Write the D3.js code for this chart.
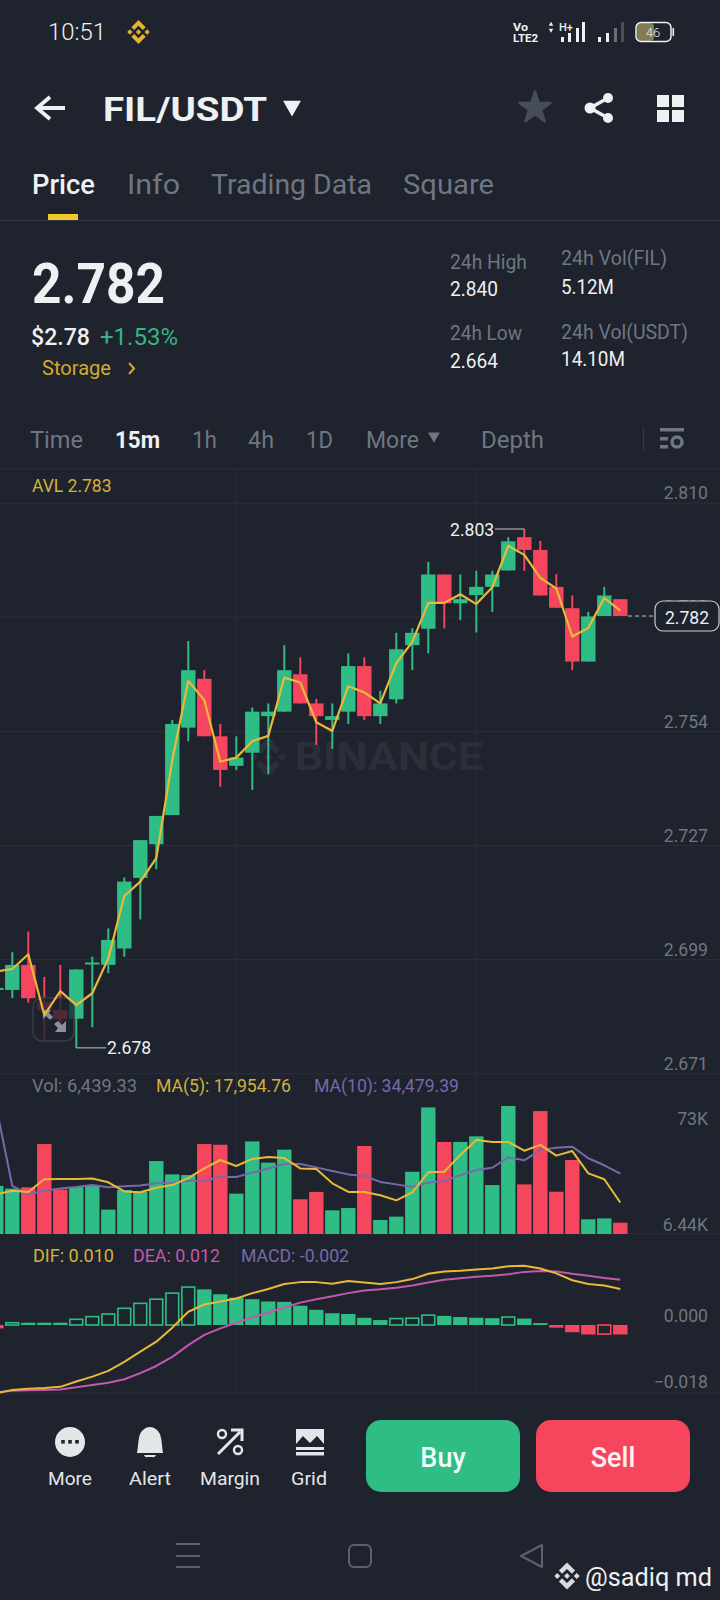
<!DOCTYPE html>
<html>
<head>
<meta charset="utf-8">
<title>FIL/USDT</title>
<script src="https://cdn.jsdelivr.net/npm/d3@7"></script>
<style>
html,body{margin:0;padding:0;background:#1e232d;}
svg{display:block;font-family:Roboto,"Noto Sans",sans-serif;}
</style>
</head>
<body>
<svg></svg>
<script>
// first entry is the candle cut off by the left edge
let opens = [2.6913,2.6913,2.6974,2.6884,2.6864,2.6843,2.6975,2.6974,2.7014,2.7186,2.7268,2.7339,2.7552,2.7671,2.7531,2.7459,2.7491,2.7580,2.7591,2.7682,2.7611,2.7571,2.7591,2.7702,2.7580,2.7621,2.7753,2.7793,2.7925,2.7855,2.7875,2.7895,2.7935,2.8016,2.7985,2.7895,2.7843,2.7713,2.7824,2.7865];
let closes = [2.6918,2.6974,2.6893,2.6864,2.6842,2.6963,2.6980,2.7035,2.7177,2.7278,2.7337,2.7561,2.7692,2.7531,2.7449,2.7479,2.7591,2.7591,2.7692,2.7611,2.7580,2.7580,2.7702,2.7580,2.7611,2.7743,2.7783,2.7925,2.7855,2.7865,2.7895,2.7925,2.8006,2.7985,2.7874,2.7844,2.7713,2.7823,2.7874,2.7824];
let highs = [2.6920,2.7005,2.7055,2.6945,2.6974,2.6963,2.6994,2.7063,2.7187,2.7278,2.7337,2.7571,2.7763,2.7692,2.7561,2.7531,2.7601,2.7611,2.7753,2.7723,2.7622,2.7611,2.7733,2.7723,2.7642,2.7783,2.7794,2.7956,2.7925,2.7925,2.7934,2.7934,2.8016,2.8036,2.8007,2.7926,2.7874,2.7834,2.7895,2.7865];
let lows = [2.6911,2.6893,2.6882,2.6791,2.6828,2.6772,2.6822,2.6954,2.6994,2.7085,2.7207,2.7339,2.7519,2.7531,2.7408,2.7449,2.7400,2.7439,2.7591,2.7611,2.7510,2.7500,2.7561,2.7571,2.7561,2.7611,2.7692,2.7733,2.7794,2.7814,2.7784,2.7834,2.7935,2.7934,2.7874,2.7844,2.7692,2.7713,2.7824,2.7824];
let priceMa = [2.6958,2.6964,2.7000,2.6852,2.6910,2.6876,2.6905,2.6990,2.7142,2.7177,2.7234,2.7473,2.7666,2.7619,2.7469,2.7479,2.7519,2.7532,2.7674,2.7662,2.7565,2.7544,2.7653,2.7638,2.7611,2.7709,2.7761,2.7856,2.7856,2.7877,2.7853,2.7894,2.7995,2.7973,2.7917,2.7891,2.7774,2.7795,2.7868,2.7837];
let priceTicks = [2.8100,2.7822,2.7544,2.7266,2.6988,2.6710];

let volumes = [27400,25900,26600,51300,25300,26800,27900,13900,25100,24100,41600,34000,33600,51300,50900,23000,52800,40700,48100,19800,24000,13500,14800,50200,8000,9900,35500,72200,52500,52500,55700,27900,73000,28300,70100,24100,42200,8400,8900,6439.33];
let volMa5 = [22600,24700,24000,31200,31400,31400,31700,29500,24300,23800,26400,27900,31900,37400,42200,38800,42800,43900,43300,37400,37100,28900,24000,24000,22100,19200,23800,35200,35500,45100,53600,52500,52500,47500,50800,44700,47300,34600,31200,17954.76];
let volMa10 = [72400,27400,22600,24700,26000,26800,27900,26600,27200,27600,28900,29300,30400,30400,32700,32500,35000,37400,39900,39900,38000,35900,34000,33100,29700,28300,26800,29300,30200,33600,36500,37800,43700,42000,47900,49200,49800,43200,39200,34479.39];
let volTicks = [6439.33,73000];
let volTickLabels = ["6.44K","73K"];

let hist = [-0.0009,0.0006,0.0006,0.0006,0.0006,0.0015,0.0022,0.0029,0.0044,0.0057,0.0068,0.0084,0.0100,0.0094,0.0081,0.0072,0.0068,0.0062,0.0061,0.0051,0.0040,0.0031,0.0029,0.0019,0.0013,0.0017,0.0018,0.0026,0.0024,0.0021,0.0019,0.0018,0.0021,0.0017,0.0005,-0.0007,-0.0019,-0.0025,-0.0024,-0.0025];
let dif = [-0.0180,-0.0171,-0.0168,-0.0166,-0.0163,-0.0149,-0.0136,-0.0121,-0.0097,-0.0070,-0.0044,-0.0007,0.0035,0.0054,0.0062,0.0070,0.0084,0.0095,0.0108,0.0113,0.0113,0.0109,0.0116,0.0112,0.0108,0.0113,0.0121,0.0135,0.0141,0.0143,0.0146,0.0149,0.0155,0.0156,0.0149,0.0136,0.0118,0.0108,0.0104,0.0095];
let dea = [-0.0178,-0.0173,-0.0172,-0.0171,-0.0170,-0.0164,-0.0158,-0.0152,-0.0143,-0.0127,-0.0108,-0.0084,-0.0053,-0.0026,-0.0009,0.0006,0.0020,0.0033,0.0046,0.0059,0.0068,0.0076,0.0084,0.0091,0.0094,0.0098,0.0104,0.0112,0.0119,0.0123,0.0127,0.0130,0.0134,0.0140,0.0142,0.0141,0.0135,0.0130,0.0124,0.0119];
let macdTicks = [0,-0.018];

let width = 720;
let height = 1600;
let bg = "#1e232d";
let green = "#2ebd85";
let red = "#f6465d";
let yellow = "#e9b93a";
let pink = "#c558ae";
let purple = "#7a68ab";
let grey = "#6f7683";
let gridColor = "#2b303b";
let white = "#eef0f2";

let svg = d3.select("svg").attr("width",width).attr("height",height);
svg.append("rect").attr("width",width).attr("height",height).attr("fill",bg);

let xScale = d3.scaleBand().domain(d3.range(opens.length)).range([-11.7,628.3]).paddingInner(0.1).paddingOuter(0.05);
let xMid = i => xScale(i)+xScale.bandwidth()/2;
let yPrice = d3.scaleLinear().domain([2.671,2.810]).range([1073.3,502.7]);
let yVol = d3.scaleLinear().domain([0,73000]).range([1234,1106]);
let yMacd = d3.scaleLinear().domain([-0.018,0]).range([1393.3,1325]);

let label = (x,y,str,size,fill,anchor,weight,len) => {
    let t = svg.append("text")
        .attr("x",x).attr("y",y)
        .attr("dy","0.35em")
        .attr("font-size",size)
        .attr("fill",fill)
        .attr("text-anchor",anchor||"start")
        .attr("font-weight",weight||400)
        .text(str);
    if(len) t.attr("textLength",len).attr("lengthAdjust","spacingAndGlyphs");
    return t;
}

let tri = (cx,cy,size,fill,rot) => {
    svg.append("path")
        .attr("d",d3.symbol().type(d3.symbolTriangle).size(size)())
        .attr("transform","translate("+cx+","+cy+") rotate("+rot+")")
        .attr("fill",fill);
}

let logo = (cx,cy,s,fill) => {
    let g = svg.append("g").attr("transform","translate("+cx+","+cy+")").attr("fill",fill);
    let d = (x,y,r) => "M"+x+" "+(y-r)+"L"+(x+r)+" "+y+"L"+x+" "+(y+r)+"L"+(x-r)+" "+y+"Z";
    g.append("path").attr("d",d(0,0,s*0.22)+d(-s*0.72,0,s*0.22)+d(s*0.72,0,s*0.22));
    g.append("path").attr("d","M0 "+(-s)+"L"+s*0.6+" "+(-s*0.4)+"L"+s*0.36+" "+(-s*0.16)+"L0 "+(-s*0.52)+"L"+(-s*0.36)+" "+(-s*0.16)+"L"+(-s*0.6)+" "+(-s*0.4)+"Z");
    g.append("path").attr("d","M0 "+s+"L"+s*0.6+" "+s*0.4+"L"+s*0.36+" "+s*0.16+"L0 "+s*0.52+"L"+(-s*0.36)+" "+s*0.16+"L"+(-s*0.6)+" "+s*0.4+"Z");
}

let drawHeader = () => {
    label(48,32,"10:51",24,white,"start",300,58);
    logo(138.5,32,12,"#e3b22f");
    // status icons
    label(513,27,"Vo",10.5,white,"start",700,15);
    label(513,38,"LTE2",10.5,white,"start",700,25);
    label(559,27.5,"H+",11,white,"start",500,14);
    tri(551,24.5,9,white,0);
    tri(551,30,9,white,180);
    [[561,5],[568,9],[576,14],[582,20]].forEach(b => {
        svg.append("rect").attr("x",b[0]).attr("y",42-b[1]).attr("width",3).attr("height",b[1]).attr("fill",white);
    });
    [[598,5,white],[606,9,white],[614,14,"#6a6f78"],[621,20,"#4a4f59"]].forEach(b => {
        svg.append("rect").attr("x",b[0]).attr("y",42-b[1]).attr("width",3).attr("height",b[1]).attr("fill",b[2]);
    });
    svg.append("rect").attr("x",637).attr("y",23).attr("width",17).attr("height",18).attr("rx",4).attr("fill","#867c54");
    svg.append("rect").attr("x",636).attr("y",22.5).attr("width",35).attr("height",19).attr("rx",5).attr("fill","none").attr("stroke",white).attr("stroke-width",1.5);
    svg.append("rect").attr("x",672.5).attr("y",28).attr("width",1.6).attr("height",8).attr("fill",white);
    label(653,32.5,"46",13,white,"middle",300);

    // title row
    svg.append("path").attr("d","M65 108H38M50 97L37 108L50 119").attr("fill","none").attr("stroke",white).attr("stroke-width",3.8);
    label(103,109,"FIL/USDT",33.5,white,"start",700,164);
    tri(292,106,140,white,180);
    svg.append("path").attr("d",d3.symbol().type(d3.symbolStar).size(300)()).attr("transform","translate(535,108)")
        .attr("fill","#474d5a").attr("stroke","#474d5a").attr("stroke-width",2.5).attr("stroke-linejoin","round");
    svg.append("path").attr("d","M608 98L590 108L608 118").attr("fill","none").attr("stroke",white).attr("stroke-width",3.4);
    [[608,98,5],[590,108,5.5],[608,118,5]].forEach(c => {
        svg.append("circle").attr("cx",c[0]).attr("cy",c[1]).attr("r",c[2]).attr("fill",white);
    });
    [[657,95],[672,95],[657,110],[672,110]].forEach(c => {
        svg.append("rect").attr("x",c[0]).attr("y",c[1]).attr("width",12).attr("height",12).attr("fill",white);
    });

    // tabs
    label(32,184,"Price",28,white,"start",500,63);
    label(127,184,"Info",28,grey,"start",400,53);
    label(211,184,"Trading Data",28,grey,"start",400,161);
    label(403,184,"Square",28,grey,"start",400,91);
    svg.append("rect").attr("x",48).attr("y",214).attr("width",30).attr("height",6).attr("fill","#f0c92f");
    svg.append("rect").attr("x",0).attr("y",220).attr("width",width).attr("height",1).attr("fill","#323844");

    // price block
    label(32,283,"2.782",56,white,"start",700,133);
    label(31,337,"$2.78",23,white,"start",500,59);
    label(100,337,"+1.53%",23,"#38b486","start",400,78);
    label(42,368,"Storage",21,"#d4a92c","start",400,69);
    svg.append("path").attr("d","M129 363L134 368.5L129 374").attr("fill","none").attr("stroke","#d4a92c").attr("stroke-width",2);
    label(450,262,"24h High",21,grey,"start",400,77);
    label(450,289,"2.840",20,white,"start",400,48);
    label(561,258,"24h Vol(FIL)",21,grey,"start",400,106);
    label(561,287,"5.12M",20,white,"start",400,53);
    label(450,333,"24h Low",21,grey,"start",400,72);
    label(450,361,"2.664",20,white,"start",400,48);
    label(561,332,"24h Vol(USDT)",21,grey,"start",400,127);
    label(561,359,"14.10M",20,white,"start",400,64);

    // interval row
    label(30,440,"Time",24,grey,"start",400,53);
    label(115,440,"15m",24,white,"start",700,45);
    label(192,440,"1h",24,grey,"start",400,25);
    label(248,440,"4h",24,grey,"start",400,26);
    label(306,440,"1D",24,grey,"start",400,27);
    label(366,440,"More",24,grey,"start",400,53);
    tri(434,436,60,grey,180);
    label(481,440,"Depth",24,grey,"start",400,63);
    svg.append("rect").attr("x",643).attr("y",427).attr("width",1).attr("height",23).attr("fill","#323844");
    svg.append("rect").attr("x",660).attr("y",428).attr("width",24).attr("height",3.5).attr("fill",grey);
    svg.append("rect").attr("x",660).attr("y",437).attr("width",8).attr("height",3.5).attr("fill",grey);
    svg.append("rect").attr("x",660).attr("y",445).attr("width",8).attr("height",3.5).attr("fill",grey);
    svg.append("circle").attr("cx",677).attr("cy",442).attr("r",5).attr("fill","none").attr("stroke",grey).attr("stroke-width",3.5);
}

let styleTicks = (g,offset) => {
    g.select(".domain").remove();
    g.selectAll("text")
        .attr("x",708).attr("dy","0.35em").attr("y",offset)
        .attr("text-anchor","end")
        .attr("font-size",17.6)
        .attr("font-family","Roboto")
        .attr("fill",grey);
}

let drawGrid = () => {
    svg.append("rect").attr("x",0).attr("y",468.5).attr("width",width).attr("height",1).attr("fill",gridColor);
    [xMid(15),xMid(30)].forEach(x => {
        svg.append("line").attr("x1",x).attr("x2",x).attr("y1",470).attr("y2",1393).attr("stroke",gridColor);
    });
    [1233.7,1393.3].forEach(y => {
        svg.append("line").attr("x1",0).attr("x2",width).attr("y1",y).attr("y2",y).attr("stroke",gridColor);
    });

    // watermark under the candles
    logo(268,757,20,"#2a2f3a");
    label(295,757,"BINANCE",38,"#2a2f3a","start",700,188);

    let priceAxis = d3.axisRight(yPrice)
        .tickValues(priceTicks)
        .tickSize(width)
        .tickFormat(d3.format(".3f"));
    let g = svg.append("g").call(priceAxis);
    g.selectAll("line").attr("stroke",gridColor);
    styleTicks(g,-10);

    let volAxis = d3.axisRight(yVol)
        .tickValues(volTicks)
        .tickSize(0)
        .tickFormat((d,i) => volTickLabels[i]);
    styleTicks(svg.append("g").call(volAxis),(d,i) => i==0 ? 2 : 12);

    let macdAxis = d3.axisRight(yMacd)
        .tickValues(macdTicks)
        .tickSize(0)
        .tickFormat(d3.format(".3f"));
    styleTicks(svg.append("g").call(macdAxis),(d,i) => i==0 ? -10 : -12);
}

let drawLine = (values,yScale,color,width) => {
    let line = d3.line().x((d,i) => xMid(i)).y(d => yScale(d));
    svg.append("path").datum(values)
        .attr("d",line)
        .attr("fill","none")
        .attr("stroke",color)
        .attr("stroke-width",width)
        .attr("stroke-linejoin","round");
}

let drawCandles = () => {
    let color = i => closes[i]>=opens[i] ? green : red;
    let idx = d3.range(opens.length);
    svg.append("g").selectAll("line").data(idx).join("line")
        .attr("x1",xMid).attr("x2",xMid)
        .attr("y1",i => yPrice(highs[i]))
        .attr("y2",i => yPrice(lows[i]))
        .attr("stroke",color)
        .attr("stroke-width",2);
    svg.append("g").selectAll("rect").data(idx).join("rect")
        .attr("x",i => xScale(i))
        .attr("width",xScale.bandwidth())
        .attr("y",i => yPrice(Math.max(opens[i],closes[i])))
        .attr("height",i => Math.abs(yPrice(opens[i])-yPrice(closes[i])))
        .attr("fill",color);

    // zoom button sits over the candles
    svg.append("rect").attr("x",33).attr("y",998).attr("width",41).attr("height",43).attr("rx",9)
        .attr("fill",bg).attr("fill-opacity",0.78).attr("stroke","#383d48").attr("stroke-width",1.5);
    svg.append("path").attr("d","M43 1010H51L49 1013L53 1017L50 1020L46 1016L43 1019Z").attr("fill","#8a909c");
    svg.append("path").attr("d","M66 1032H55L58 1028L54 1024L58 1021L62 1025L66 1021Z").attr("fill","#8a909c");

    drawLine(priceMa,yPrice,yellow,2.2);

    // high, low and last price markers
    let hi = d3.max(highs), lo = d3.min(lows);
    let last = closes[closes.length-1];
    let hiX = xMid(highs.indexOf(hi)), loX = xMid(lows.indexOf(lo));
    svg.append("line").attr("x1",hiX).attr("x2",495).attr("y1",yPrice(hi)).attr("y2",yPrice(hi)).attr("stroke","#a6abb3").attr("stroke-width",1.2);
    label(450,530,"2.803",17.6,white);
    svg.append("line").attr("x1",loX).attr("x2",106).attr("y1",yPrice(lo)).attr("y2",yPrice(lo)).attr("stroke","#a6abb3").attr("stroke-width",1.2);
    label(107,1048,"2.678",17.6,white);
    svg.append("line").attr("x1",628).attr("x2",655).attr("y1",yPrice(last)).attr("y2",yPrice(last))
        .attr("stroke","#b9bdc4").attr("stroke-width",1.2).attr("stroke-dasharray","4 3");
    svg.append("rect").attr("x",655).attr("y",601).attr("width",64).attr("height",30).attr("rx",8)
        .attr("fill",bg).attr("fill-opacity",0.92).attr("stroke","#c8ccd0").attr("stroke-width",1.2);
    label(687,618,"2.782",17.6,white,"middle");
    label(32,486,"AVL 2.783",17.5,"#d4b13a");
}

let drawVolume = () => {
    let idx = d3.range(volumes.length);
    svg.append("g").selectAll("rect").data(idx).join("rect")
        .attr("x",i => xScale(i))
        .attr("width",xScale.bandwidth())
        .attr("y",i => yVol(volumes[i]))
        .attr("height",i => yVol(0)-yVol(volumes[i]))
        .attr("fill",i => closes[i]>=opens[i] ? green : red);
    drawLine(volMa10,yVol,purple,2);
    drawLine(volMa5,yVol,yellow,2);
    label(32,1086,"Vol: 6,439.33",17.6,grey,"start",400,105);
    label(156,1086,"MA(5): 17,954.76",17.6,"#d4b13a","start",400,135);
    label(314,1086,"MA(10): 34,479.39",17.6,purple,"start",400,145);
}

let drawMacd = () => {
    let idx = d3.range(hist.length);
    let hollow = i => i>0 && hist[i]>hist[i-1];
    let zero = yMacd(0);
    svg.append("g").selectAll("rect").data(idx).join("rect")
        .attr("x",i => xScale(i)+(hollow(i)?0.8:0))
        .attr("width",i => xScale.bandwidth()-(hollow(i)?1.6:0))
        .attr("y",i => Math.min(yMacd(hist[i]),zero))
        .attr("height",i => Math.abs(yMacd(hist[i])-zero))
        .attr("fill",i => hollow(i) ? "none" : (hist[i]>=0 ? green : red))
        .attr("stroke",i => hist[i]>=0 ? green : red)
        .attr("stroke-width",i => hollow(i) ? 1.6 : 0);
    drawLine(dea,yMacd,pink,2);
    drawLine(dif,yMacd,yellow,2);
    label(33,1256,"DIF: 0.010",17.6,"#d4b13a","start",400,81);
    label(133,1256,"DEA: 0.012",17.6,pink,"start",400,87);
    label(241,1256,"MACD: -0.002",17.6,purple,"start",400,108);
}

let drawFooter = () => {
    let ink = "#e4e6e9";
    svg.append("circle").attr("cx",70).attr("cy",1442).attr("r",15).attr("fill",ink);
    [63,70,77].forEach(x => {
        svg.append("rect").attr("x",x-1.8).attr("y",1440).attr("width",3.6).attr("height",3.6).attr("fill",bg);
    });
    svg.append("path").attr("d","M137 1453C138 1448 138 1442 139 1438C140 1431 145 1427 150 1427C155 1427 160 1431 161 1438C162 1442 162 1448 163 1453Z").attr("fill",ink);
    svg.append("path").attr("d","M144 1455H156C155 1458 153 1457 150 1457C147 1457 145 1458 144 1455Z").attr("fill",ink);
    svg.append("path").attr("d","M218 1454L240 1432M231 1430H242V1441").attr("fill","none").attr("stroke",ink).attr("stroke-width",3);
    svg.append("circle").attr("cx",222).attr("cy",1434).attr("r",4).attr("fill","none").attr("stroke",ink).attr("stroke-width",2.4);
    svg.append("circle").attr("cx",238).attr("cy",1450).attr("r",4).attr("fill","none").attr("stroke",ink).attr("stroke-width",2.4);
    svg.append("path").attr("d","M296 1429H324V1444L317 1436L310 1443L303 1436L296 1444Z").attr("fill",ink);
    svg.append("rect").attr("x",296).attr("y",1447).attr("width",28).attr("height",3).attr("fill",ink);
    svg.append("rect").attr("x",296).attr("y",1452).attr("width",28).attr("height",3.5).attr("fill",ink);
    label(70,1478,"More",19,ink,"middle",400,44);
    label(150,1478,"Alert",19,ink,"middle",400,42);
    label(230,1478,"Margin",19,ink,"middle",400,60);
    label(309,1478,"Grid",19,ink,"middle",400,36);

    svg.append("rect").attr("x",366).attr("y",1420).attr("width",154).attr("height",72).attr("rx",15).attr("fill",green);
    svg.append("rect").attr("x",536).attr("y",1420).attr("width",154).attr("height",72).attr("rx",15).attr("fill",red);
    label(443,1458,"Buy",27,"#f1fbf7","middle",500);
    label(613,1458,"Sell",27,"#fff1f3","middle",500);

    let nav = "#5b626e";
    [1544,1556,1567].forEach(y => {
        svg.append("rect").attr("x",176).attr("y",y-1).attr("width",24).attr("height",2).attr("fill",nav);
    });
    svg.append("rect").attr("x",349).attr("y",1545).attr("width",22).attr("height",22).attr("rx",5).attr("fill","none").attr("stroke",nav).attr("stroke-width",2);
    svg.append("path").attr("d","M542 1545V1567L521 1556Z").attr("fill","none").attr("stroke",nav).attr("stroke-width",2).attr("stroke-linejoin","round");
    logo(567,1576,13.5,"#d8dade");
    label(585,1577,"@sadiq md",26,white,"start",400,127);
}

drawHeader();
drawGrid();
drawVolume();
drawMacd();
drawCandles();
drawFooter();
</script>
</body>
</html>
